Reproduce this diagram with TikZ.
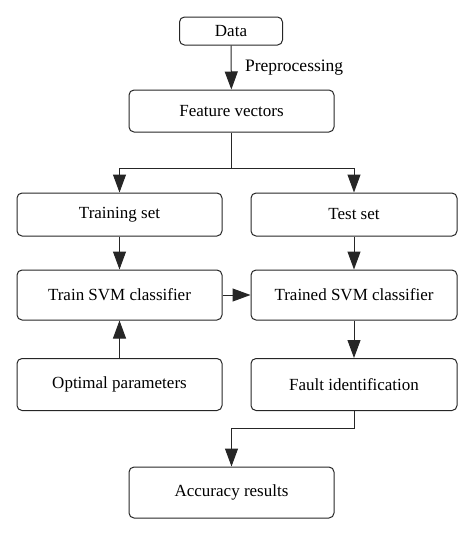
\documentclass[tikz,border=0pt]{standalone}
\usepackage{fontspec}
\setmainfont{Liberation Serif}
\usetikzlibrary{arrows.meta}
\begin{document}
\begin{tikzpicture}[x=1pt,y=-1pt,
  box/.style={draw=black!85,line width=1pt,rounded corners=5pt,inner sep=0pt,font=\fontsize{17}{20}\selectfont},
  arr/.style={draw=black!85,line width=1pt,-{Triangle[length=18pt,width=13pt]}},
  ln/.style={draw=black!85,line width=1pt}]
\useasboundingbox (0,0) rectangle (474,536);
\node[box,minimum width=103pt,minimum height=28pt] (data) at (231,31) {Data};
\node[box,minimum width=205pt,minimum height=42pt] (fv) at (231.5,111) {Feature vectors};
\node[box,minimum width=205pt,minimum height=43pt] (train) at (119.5,214.5) {Training set};
\node[box,minimum width=206pt,minimum height=43pt] (test) at (354,214.5) {Test set};
\node[box,minimum width=205pt,minimum height=50pt] (tsvm) at (119.5,295) {Train SVM classifier};
\node[box,minimum width=206pt,minimum height=50pt] (tdsvm) at (354,295) {Trained SVM classifier};
\node[box,minimum width=205pt,minimum height=52pt] (opt) at (119.5,384.5) {Optimal parameters};
\node[box,minimum width=206pt,minimum height=52pt] (fault) at (354,384.5) {Fault identification};
\node[box,minimum width=205pt,minimum height=51pt] (acc) at (231.5,492.5) {Accuracy results};
\draw[arr] (data) -- (fv) node[midway,right=10pt,font=\fontsize{17.5}{20}\selectfont]{Preprocessing};
\coordinate (split) at (231.5,168);
\draw[ln] (fv.south) -- (split);
\draw[arr] (split) -| (train.north);
\draw[arr] (split) -| (test.north);
\draw[arr] (train) -- (tsvm);
\draw[arr] (test) -- (tdsvm);
\draw[arr] (tsvm) -- (tdsvm);
\draw[arr] (opt) -- (tsvm);
\draw[arr] (tdsvm) -- (fault);
\coordinate (bend) at (354,428);
\draw[arr] (fault.south) -- (bend) -| (acc.north);
\end{tikzpicture}
\end{document}
